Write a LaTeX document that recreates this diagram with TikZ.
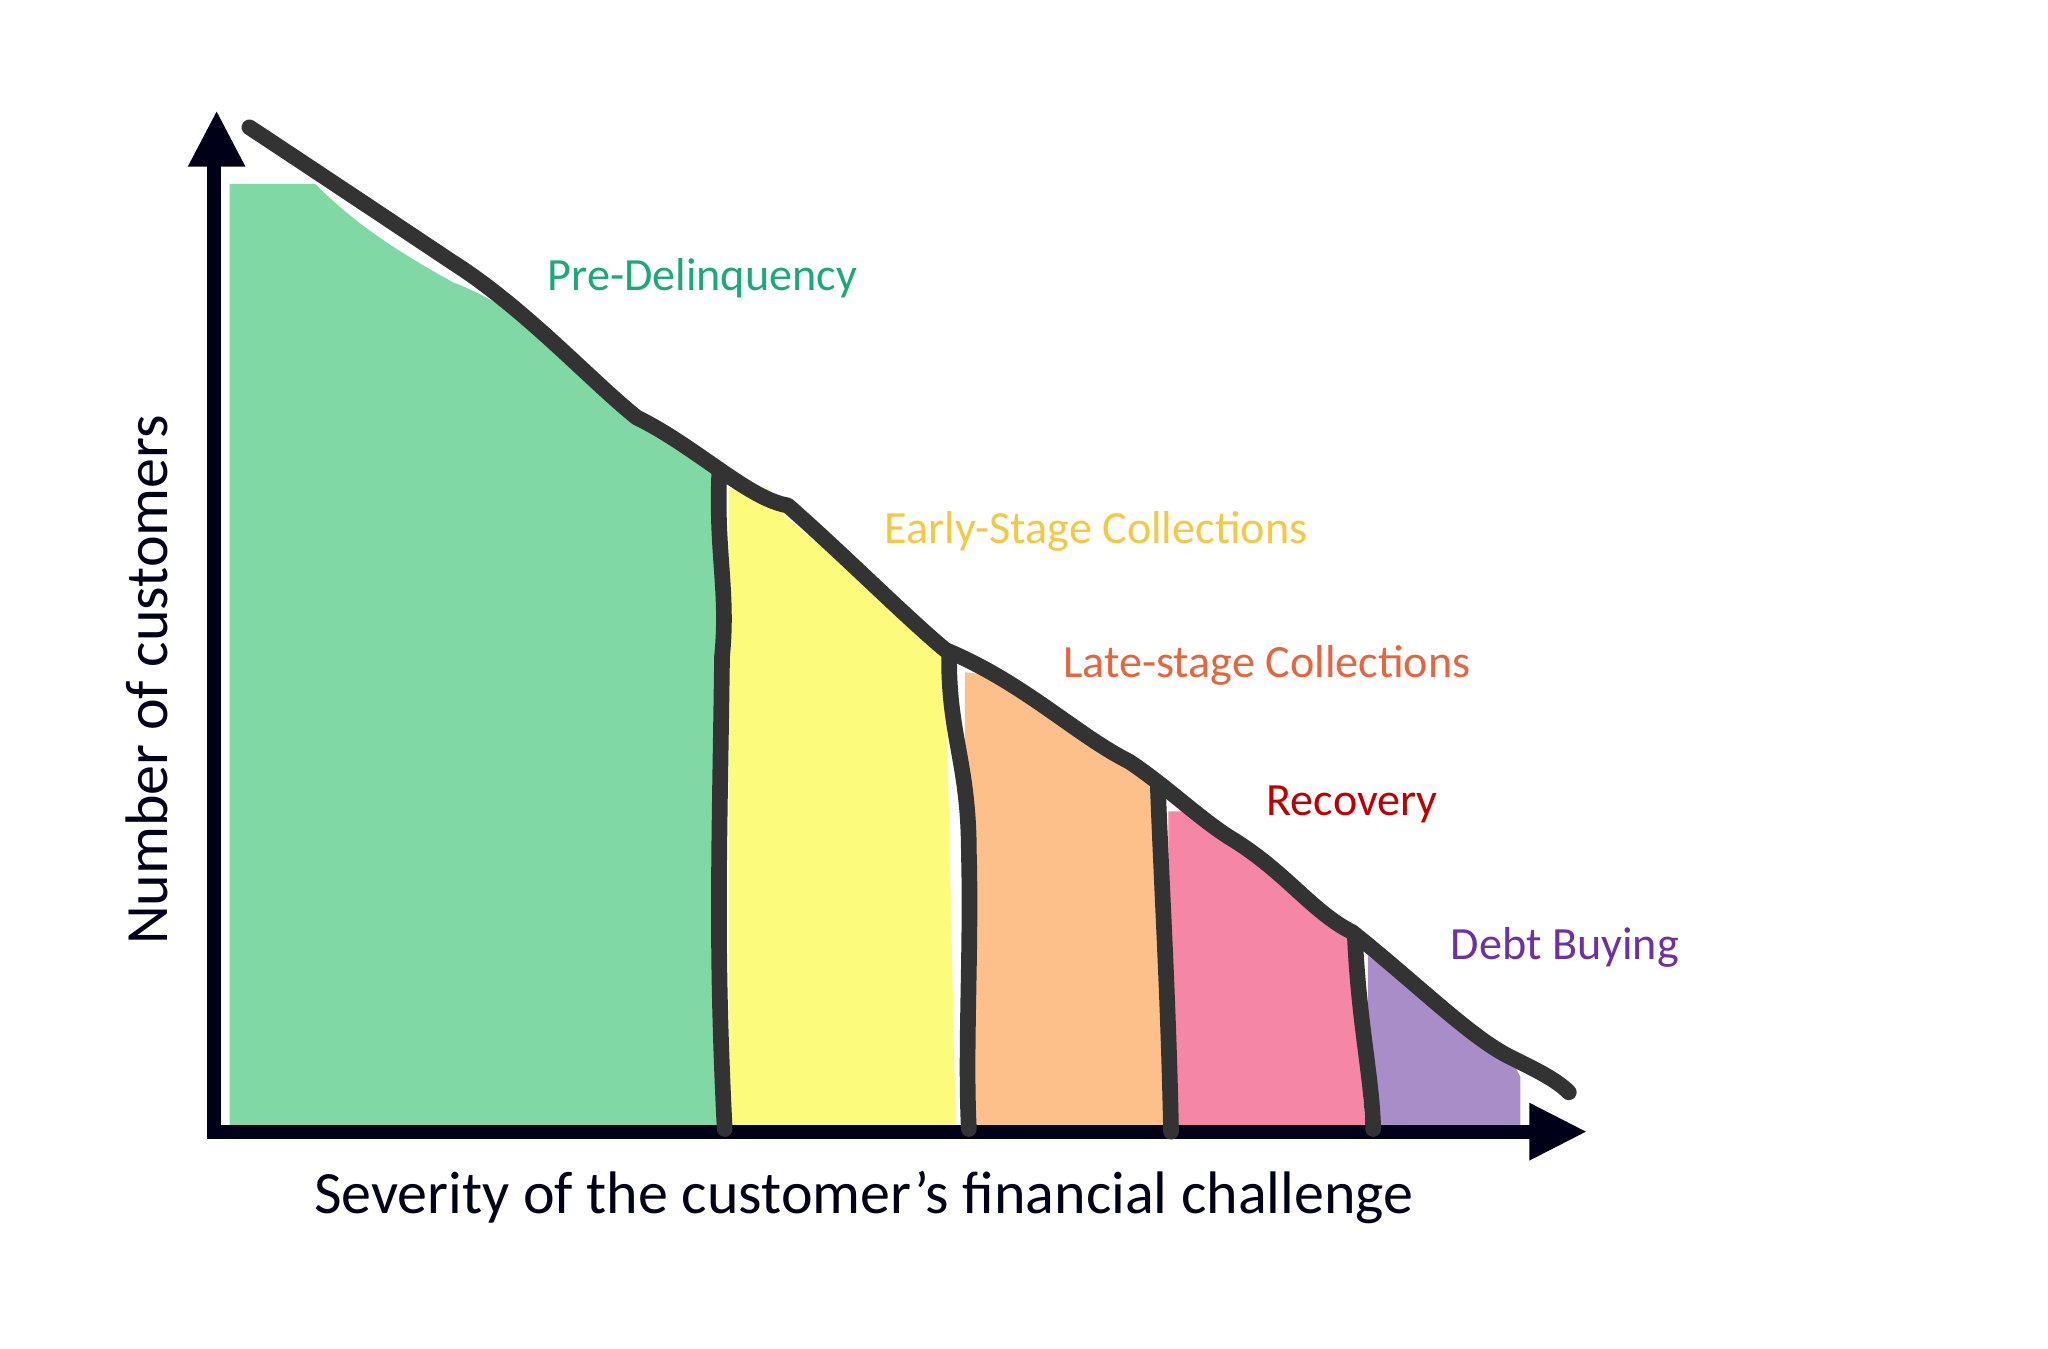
\documentclass[tikz,border=0pt]{standalone}
\usepackage{fontspec}
\setmainfont{Carlito}
\begin{document}
\begin{tikzpicture}[x=0.01cm,y=-0.01cm,
  curve/.style={draw=black!80,line width=3.4pt,line cap=round,line join=round},
  lbl/.style={font=\fontsize{10}{12}\selectfont},
  axlbl/.style={font=\fontsize{13}{15}\selectfont,text=black!90!blue}]
\useasboundingbox (0,0) rectangle (1560,1027);
\definecolor{cg}{HTML}{80D9A4}\definecolor{cy}{HTML}{FDFB7C}
\definecolor{co}{HTML}{FDC08A}\definecolor{cp}{HTML}{F586A6}\definecolor{cv}{HTML}{A98DC8}
% fills
\fill[cg] (175,858) -- (175,140) -- (240,140) .. controls (270,170) and (300,190) .. (345,215) .. controls (410,240) and (450,290) .. (480,320) -- (548,358) -- (548,858) -- cycle;
\fill[cy] (555,858) -- (555,372) -- (585,372) -- (600,395) -- (720,495) -- (728,858) -- cycle;
\fill[co] (735,858) -- (735,512) -- (760,515) -- (860,585) -- (885,605) -- (890,858) -- cycle;
\fill[cp] (890,858) -- (890,618) -- (912,618) -- (940,645) -- (1030,712) -- (1040,858) -- cycle;
\fill[cv] (1042,858) -- (1042,728) -- (1150,805) -- (1158,820) -- (1158,858) -- cycle;
% axes
\coordinate (o) at (163,862);
\coordinate (yt) at (163,120);
\coordinate (xt) at (1170,862);
\draw[line width=3pt,draw=black!90!blue] (yt) -- (o) -- (xt);
\fill[black!90!blue] (143,127) -- (165,85) -- (187,127) -- cycle;
\fill[black!90!blue] (1165,840) -- (1208,862) -- (1165,884) -- cycle;
% top curve
\draw[curve] (190,97) .. controls (240,130) and (300,170) .. (345,200)
  .. controls (400,235) and (450,290) .. (485,318)
  .. controls (530,340) and (570,380) .. (600,385)
  .. controls (640,420) and (690,470) .. (720,495)
  .. controls (780,520) and (820,560) .. (860,580)
  .. controls (890,600) and (915,625) .. (940,640)
  .. controls (980,665) and (1000,695) .. (1030,710)
  .. controls (1080,750) and (1120,790) .. (1150,805)
  .. controls (1170,815) and (1185,822) .. (1195,832);
% dividers
\draw[curve] (548,358) .. controls (545,420) and (555,450) .. (550,500) .. controls (548,650) and (545,720) .. (552,860);
\draw[curve] (723,497) .. controls (722,560) and (738,580) .. (738,650) .. controls (740,720) and (735,800) .. (738,860);
\draw[curve] (882,600) .. controls (885,680) and (890,760) .. (892,862);
\draw[curve] (1032,712) .. controls (1035,780) and (1045,820) .. (1046,860);
% labels
\node[lbl,text={rgb,255:red,26;green,169;blue,122}] (l1) at (535,212) {Pre-Delinquency};
\node[lbl,text={rgb,255:red,245;green,200;blue,66}] (l2) at (835,405) {Early-Stage Collections};
\node[lbl,text={rgb,255:red,232;green,100;blue,60}] (l3) at (965,507) {Late-stage Collections};
\node[lbl,text={rgb,255:red,192;green,0;blue,0}] (l4) at (1030,613) {Recovery};
\node[lbl,text={rgb,255:red,112;green,48;blue,160}] (l5) at (1192,722) {Debt Buying};
\node[axlbl,rotate=90] (ya) at (112,518) {Number of customers};
\node[axlbl] (xa) at (658,912) {Severity of the customer’s financial challenge};
\end{tikzpicture}
\end{document}
